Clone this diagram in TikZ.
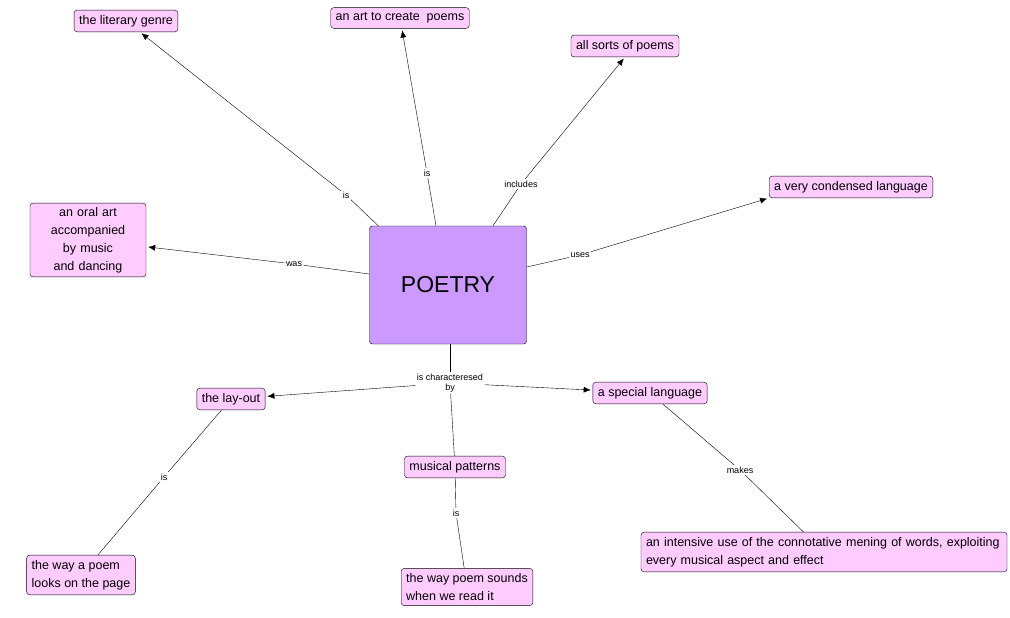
\documentclass[tikz,border=0pt]{standalone}
\usepackage{fontspec}
\setmainfont{Liberation Sans}
\usetikzlibrary{arrows.meta, positioning}
\definecolor{conceptpink}{HTML}{FFCCFF}
\definecolor{conceptlila}{HTML}{CC99FF}
\tikzset{
  concept/.style = {draw, fill=conceptpink, rounded corners=3pt, align=center,
    font=\fontsize{12.5}{18}\selectfont, inner sep=5pt},
  linkword/.style = {font=\fontsize{9}{10}\selectfont, inner sep=1.5pt, align=center},
  toarrow/.style = {-{Latex[length=7pt,width=6pt]}, shorten >=2pt},
}
\begin{document}
\begin{tikzpicture}[x=1pt, y=-1pt]
  \useasboundingbox (0,0) rectangle (1010,618);
  % central concept
  \node (poetry) [draw, fill=conceptlila, rounded corners=3pt, minimum width=157pt,
    minimum height=118pt, font=\fontsize{23}{26}\selectfont] at (448,285) {POETRY};
  % concepts
  \node (genre) [concept] at (126,21) {the literary genre};
  \node (art) [concept] at (400,18) {an art to create\ \ poems};
  \node (sorts) [concept] at (625,46) {all sorts of poems};
  \node (condensed) [concept] at (851,187) {a very condensed language};
  \node (oral) [concept, text width=108pt, inner sep=4pt] at (88,240) {an oral art\\accompanied\\by music\\and dancing};
  \node (layout) [concept] at (231,399) {the lay-out};
  \node (special) [concept] at (650,393) {a special language};
  \node (musical) [concept] at (455,467) {musical patterns};
  \node (looks) [concept, align=left] at (81,575) {the way a poem\\looks on the page};
  \node (sounds) [concept, align=left] at (467,587) {the way poem sounds\\when we read it};
  \node (intensive) [concept, align=left, text width=356pt] at (824,552)
    {an intensive use of the connotative mening of words, exploiting every musical aspect and effect};
  % linking words
  \node (isgenre) [linkword] at (346,195) {is};
  \node (isart) [linkword] at (427,173) {is};
  \node (includes) [linkword] at (521,184) {includes};
  \node (uses) [linkword] at (580,255) {uses};
  \node (was) [linkword] at (294,264) {was};
  \node (charby) [linkword] at (450,383) {is characteresed\\by};
  \node (islayout) [linkword] at (164,477) {is};
  \node (ismusical) [linkword] at (456,513) {is};
  \node (makes) [linkword] at (740,470) {makes};
  % connections
  \draw (poetry.north west) ++(9,0) coordinate (p1) (p1) -- (isgenre);
  \draw [toarrow] (isgenre) -- (genre);
  \draw (poetry.north) ++(-12,0) coordinate (p2) (p2) -- (isart);
  \draw [toarrow] (isart) -- (art);
  \draw (poetry.north) ++(45,0) coordinate (p3) (p3) -- (includes);
  \draw [toarrow] (includes) -- (sorts.south);
  \draw (poetry.east) ++(0,-18) coordinate (p4) (p4) -- (uses);
  \draw [toarrow] (uses) -- (condensed.south west);
  \draw (poetry.west) ++(0,-11) coordinate (p5) (p5) -- (was);
  \draw [toarrow] (was) -- (oral);
  \draw (poetry.south) ++(2,0) coordinate (p6) (p6) -- (charby);
  \draw [toarrow] (charby) -- (layout);
  \draw [toarrow] (charby) -- (special);
  \draw (charby) -- (musical);
  \draw (layout) -- (islayout) -- (looks);
  \draw (musical) -- (ismusical) -- (sounds);
  \draw (special) -- (makes) -- (intensive);
\end{tikzpicture}
\end{document}
